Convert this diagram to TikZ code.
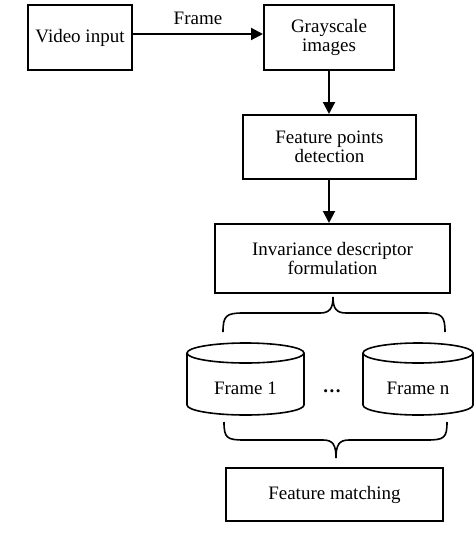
\documentclass[tikz,border=0pt]{standalone}
\usepackage{fontspec}
\setmainfont{Liberation Serif}
\usetikzlibrary{arrows.meta}
\begin{document}
\begin{tikzpicture}[x=1pt,y=-1pt,
  box/.style={draw,line width=2pt,inner sep=0pt,align=center,font=\fontsize{19}{19.5}\selectfont},
  lbl/.style={inner sep=0pt,font=\fontsize{19}{19.5}\selectfont},
  arr/.style={line width=2pt,-{Triangle[length=12pt,width=12pt]}},
  ln/.style={line width=1.6pt}]
\useasboundingbox (0,0) rectangle (474,546);
\node[box,minimum width=104pt,minimum height=65pt] (video) at (80,37.5) {Video input};
\node[box,minimum width=130pt,minimum height=65pt] (gray) at (329,37.5) {Grayscale\\images};
\node[box,minimum width=173pt,minimum height=64pt] (fpd) at (329.5,147) {Feature points\\detection};
\node[box,minimum width=235pt,minimum height=69pt] (inv) at (332.5,258.5) {Invariance descriptor\\formulation};
\node[box,minimum width=217pt,minimum height=53pt] (match) at (334.5,494.5) {Feature matching};
\draw[arr] (video.east |- 0,34) -- (gray.west |- 0,34) node[lbl,midway,above=8pt] (frm) {Frame};
\draw[arr] (gray.south) -- (fpd.north -| gray.south);
\draw[arr] (fpd.south -| gray.south) -- (inv.north -| gray.south);
% cylinders
\foreach \n/\cx/\a/\t in {c1/245.5/58.5/Frame 1, cn/418/55/Frame n}{
  \draw[ln] (\cx,353) ellipse ({\a} and 10);
  \draw[ln] (\cx-\a,353) -- (\cx-\a,405) arc[start angle=180,end angle=0,x radius=\a,y radius=10] -- (\cx+\a,353);
  \node[lbl] (\n) at (\cx,388) {\t};
}
\node[lbl] (dots) at (332,391) {\textbf{.\kern1.5pt.\kern1.5pt.}};
% braces
\coordinate (ub) at (333,297);
\draw[ln] (223,332) .. controls (223,316) and (226,313) .. (243,313) -- (320,313)
  .. controls (330,313) and (333,308) .. (ub)
  .. controls (333,308) and (336,313) .. (346,313) -- (425,313)
  .. controls (442,313) and (445,316) .. (445,332);
\coordinate (lb) at (336,458);
\draw[ln] (224,422) .. controls (224,438) and (227,440) .. (244,440) -- (323,440)
  .. controls (333,440) and (336,445) .. (lb)
  .. controls (336,445) and (339,440) .. (349,440) -- (427,440)
  .. controls (444,440) and (447,438) .. (447,422);
\end{tikzpicture}
\end{document}
